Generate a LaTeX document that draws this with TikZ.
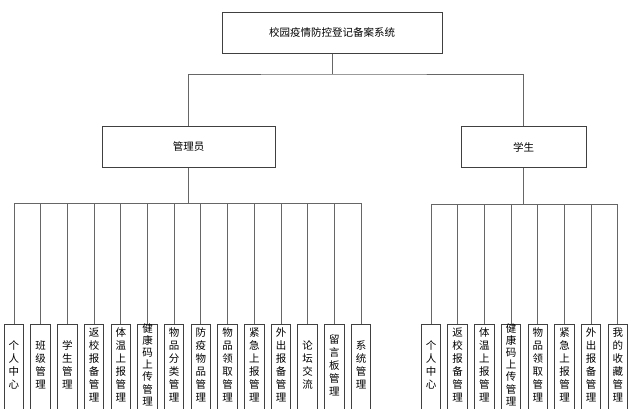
\documentclass[tikz,border=0pt]{standalone}
\usepackage{fontspec}
\newfontfamily\cjk{Noto Sans CJK SC}
\begin{document}
\begin{tikzpicture}[x=1pt,y=-1pt,
  line/.style={draw=black!60,line width=1pt},
  bigbox/.style={draw=black!75,line width=1pt,minimum height=41pt,inner sep=0pt,font=\cjk\fontsize{10.5}{12}\selectfont},
  cbox/.style={draw=black!75,line width=1pt,minimum width=19.5pt,minimum height=90pt,inner sep=0pt,anchor=north},
  vtext/.style={align=center,inner sep=0pt,font=\cjk\fontsize{10.5}{13}\selectfont},
  vtextb/.style={align=center,inner sep=0pt,font=\cjk\fontsize{10.5}{12.2}\selectfont}]
\useasboundingbox (0,0) rectangle (631,408);
\clip (0,0) rectangle (631,408);
\node[bigbox,minimum width=220pt] (top) at (332,32.5) {校园疫情防控登记备案系统};
\node[bigbox,minimum width=173pt] (mgr) at (188.5,147) {管理员};
\node[bigbox,minimum width=125pt] (stu) at (523.5,147) {学生};
\coordinate (bus1) at (332,74);
\coordinate (bus2) at (188.5,203);
\coordinate (bus3) at (523.5,204);
\draw[line] (top.south) -- (bus1);
\draw[line] (mgr.north) |- (bus1) -| (stu.north);
\draw[line] (mgr.south) -- (bus2);
\draw[line] (stu.south) -- (bus3);
\foreach \i/\t in {0/{个\\人\\中\\心},1/{班\\级\\管\\理},2/{学\\生\\管\\理},3/{返\\校\\报\\备\\管\\理},4/{体\\温\\上\\报\\管\\理},6/{物\\品\\分\\类\\管\\理},7/{防\\疫\\物\\品\\管\\理},8/{物\\品\\领\\取\\管\\理},9/{紧\\急\\上\\报\\管\\理},10/{外\\出\\报\\备\\管\\理},11/{论\\坛\\交\\流},12/{留\\言\\板\\管\\理},13/{系\\统\\管\\理}}{
  \node[cbox] (a\i) at ({14+26.7*\i},324) {};
  \node[vtext] (ta\i) at ([yshift=4.5pt]a\i.center) {\t};
  \draw[line] (bus2) -| (a\i.north);
}
\node[cbox] (a5) at ({14+26.7*5},324) {};
\node[vtextb] (ta5) at ([yshift=5pt]a5.center) {健\\康\\码\\上\\传\\管\\理};
\draw[line] (bus2) -| (a5.north);
\foreach \i/\t in {0/{个\\人\\中\\心},1/{返\\校\\报\\备\\管\\理},2/{体\\温\\上\\报\\管\\理},4/{物\\品\\领\\取\\管\\理},5/{紧\\急\\上\\报\\管\\理},6/{外\\出\\报\\备\\管\\理},7/{我\\的\\收\\藏\\管\\理}}{
  \node[cbox] (b\i) at ({431+26.7*\i},324) {};
  \node[vtext] (tb\i) at ([yshift=4.5pt]b\i.center) {\t};
  \draw[line] (bus3) -| (b\i.north);
}
\node[cbox] (b3) at ({431+26.7*3},324) {};
\node[vtextb] (tb3) at ([yshift=5pt]b3.center) {健\\康\\码\\上\\传\\管\\理};
\draw[line] (bus3) -| (b3.north);
\end{tikzpicture}
\end{document}
